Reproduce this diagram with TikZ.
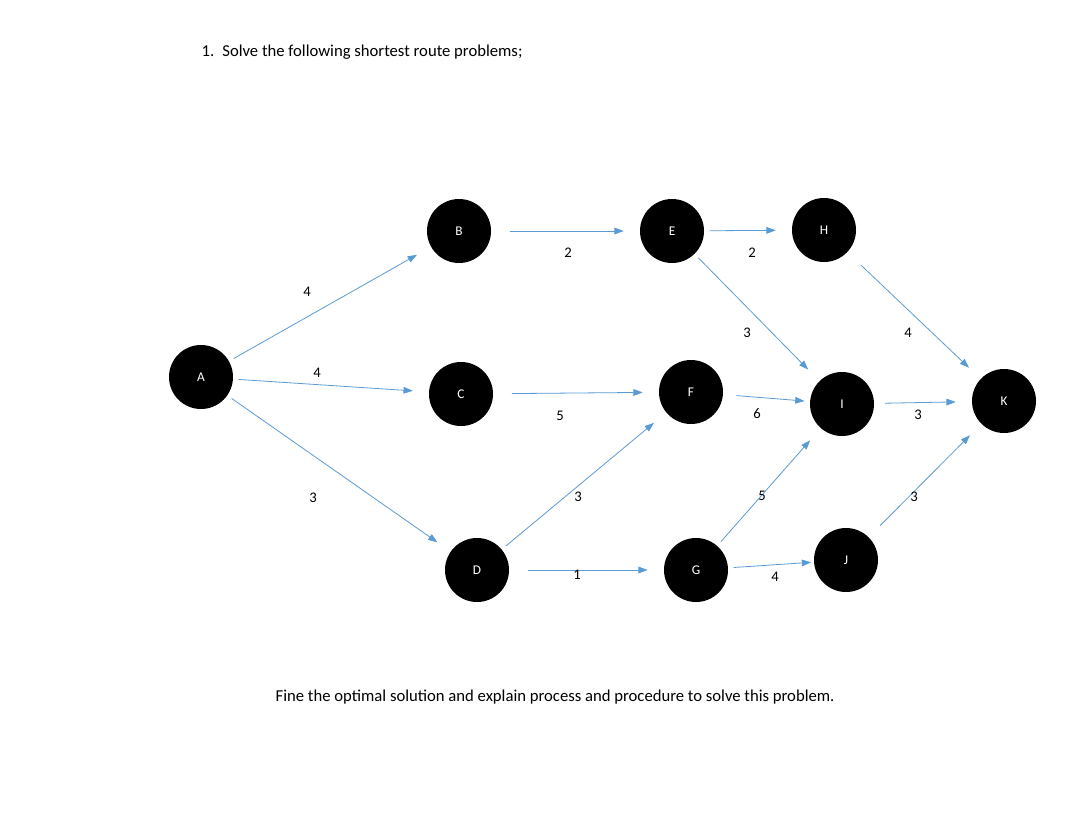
\documentclass[tikz,border=0pt]{standalone}
\usepackage{fontspec}
\setmainfont{Carlito}
\usetikzlibrary{arrows.meta}
\definecolor{arr}{RGB}{91,155,213}
\begin{document}
\begin{tikzpicture}[x=0.75pt,y=-0.75pt,
  v/.style={circle,fill=black,minimum size=48pt,inner sep=0pt,text=white,font=\fontsize{10}{12}\selectfont},
  e/.style={draw=arr,line width=0.6pt,-{Triangle[length=7pt,width=5pt]},shorten <=4pt,shorten >=12pt},
  w/.style={font=\fontsize{11}{13}\selectfont}]
\useasboundingbox (0,0) rectangle (1080,828);
\fill[white] (0,0) rectangle (1080,828);
\node[anchor=west,font=\fontsize{12.5}{15}\selectfont] (t1) at (197,52) {1.\hspace{6pt}Solve the following shortest route problems;};
\node[anchor=west,font=\fontsize{12.5}{15}\selectfont] (t2) at (271,697) {Fine the optimal solution and explain process and procedure to solve this problem.};
\node[v] (A) at (201,377) {A};
\node[v] (B) at (459,231) {B};
\node[v] (C) at (461,394) {C};
\node[v] (D) at (477,570) {D};
\node[v] (E) at (672,231) {E};
\node[v] (F) at (691,392) {F};
\node[v] (G) at (696,570) {G};
\node[v] (H) at (824,230) {H};
\node[v] (I) at (842,404) {I};
\node[v] (J) at (846,560) {J};
\node[v] (K) at (1004,401) {K};
\draw[e] (A) -- (B);
\draw[e] (A) -- (C);
\draw[e] (A) -- (D);
\draw[e,shorten <=14pt] (B) -- (E);
\draw[e,shorten <=14pt] (C) -- (F);
\draw[e] (D) -- (F);
\draw[e,shorten <=14pt] (D) -- (G);
\draw[e] (E) -- (H);
\draw[e] (E) -- (I);
\draw[e,shorten <=10pt,shorten >=4pt] (F) -- (I);
\draw[e] (G) -- (I);
\draw[e,shorten >=2pt] (G) -- (J);
\draw[e,shorten <=14pt] (H) -- (K);
\draw[e,shorten <=8pt] (I) -- (K);
\draw[e,shorten <=12pt] (J) -- (K);
\node[w] (l1) at (307,292) {4};
\node[w] (l2) at (317,373) {4};
\node[w] (l3) at (313,498) {3};
\node[w] (l4) at (568,253) {2};
\node[w] (l5) at (560,416) {5};
\node[w] (l6) at (578,497) {3};
\node[w] (l7) at (577,575) {1};
\node[w] (l8) at (752,253) {2};
\node[w] (l9) at (747,333) {3};
\node[w] (l10) at (757,414) {6};
\node[w] (l11) at (762,496) {5};
\node[w] (l12) at (775,577) {4};
\node[w] (l13) at (908,333) {4};
\node[w] (l14) at (918,415) {3};
\node[w] (l15) at (914,497) {3};
\end{tikzpicture}
\end{document}
